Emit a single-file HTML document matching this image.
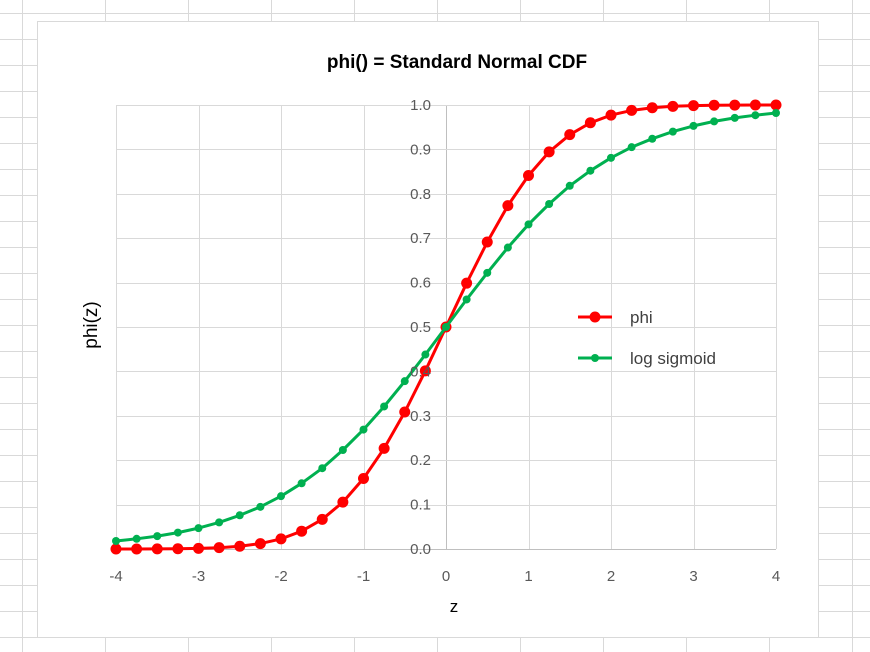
<!DOCTYPE html>
<html><head><meta charset="utf-8"><style>
html,body{margin:0;padding:0;background:#fff;}
svg{display:block;font-family:"Liberation Sans",Arial,sans-serif;}
</style></head><body>
<svg id="c" width="870" height="652">
<g id="sheet"></g>
<rect x="37.5" y="21.5" width="781" height="616" fill="#fff" stroke="#d9d9d9"/>
<g id="grid"></g>
<g id="series"></g>
<g id="ticks"></g>
<text x="457" y="68" text-anchor="middle" font-size="19" font-weight="bold" fill="#000">phi() = Standard Normal CDF</text>
<text transform="translate(97,325) rotate(-90)" text-anchor="middle" font-size="19" fill="#000">phi(z)</text>
<text x="454" y="612" text-anchor="middle" font-size="17" fill="#000">z</text>
<g>
<g>
<line x1="578" y1="317" x2="612" y2="317" stroke="#ff0000" stroke-width="3"/>
<circle cx="595" cy="317" r="5.5" fill="#ff0000"/>
<text x="630" y="323" font-size="17" fill="#404040">phi</text></g>
<g>
<line x1="578" y1="358" x2="612" y2="358" stroke="#00b050" stroke-width="3"/>
<circle cx="595" cy="358" r="4" fill="#00b050"/>
<text x="630" y="364" font-size="17" fill="#404040">log sigmoid</text></g>
</g>
</svg>
<script>
const zValues=[-4,-3.75,-3.5,-3.25,-3,-2.75,-2.5,-2.25,-2,-1.75,-1.5,-1.25,-1,-0.75,-0.5,-0.25,0,0.25,0.5,0.75,1,1.25,1.5,1.75,2,2.25,2.5,2.75,3,3.25,3.5,3.75,4];
const phiValues=[0.00003,0.0001,0.0002,0.0006,0.0013,0.003,0.0062,0.0122,0.0228,0.0401,0.0668,0.1056,0.1587,0.2266,0.3085,0.4013,0.5,0.5987,0.6915,0.7734,0.8413,0.8944,0.9332,0.9599,0.9772,0.9878,0.9938,0.997,0.9987,0.9994,0.9998,0.9999,1.0];
const sigmoidValues=[0.018,0.023,0.029,0.037,0.047,0.060,0.076,0.095,0.119,0.148,0.182,0.223,0.269,0.321,0.378,0.438,0.5,0.562,0.622,0.679,0.731,0.777,0.818,0.852,0.881,0.905,0.924,0.940,0.953,0.963,0.971,0.977,0.982];
const xTicks=[-4,-3,-2,-1,0,1,2,3,4];
const yTicks=[0,0.1,0.2,0.3,0.4,0.5,0.6,0.7,0.8,0.9,1.0];
const NS='http://www.w3.org/2000/svg';
const X0=116,X1=776,Y0=549,Y1=105;
function xs(v){return X0+(v+4)/8*(X1-X0);}
function ys(v){return Y0-v*(Y0-Y1);}
function mk(tag,attrs,parent){const e=document.createElementNS(NS,tag);for(const k in attrs)e.setAttribute(k,attrs[k]);parent.appendChild(e);return e;}
const sheet=document.getElementById('sheet');
for(let x=22;x<870;x+=83){const l=mk('line',{x1:x+.5,y1:0,x2:x+.5,y2:652,stroke:'#d9d9d9'},sheet);

}
for(let y=13;y<652;y+=26){const l=mk('line',{x1:0,y1:y+.5,x2:870,y2:y+.5,stroke:'#d9d9d9'},sheet);

}
const grid=document.getElementById('grid');
xTicks.forEach(v=>{const l=mk('line',{x1:Math.round(xs(v))+.5,y1:Y1,x2:Math.round(xs(v))+.5,y2:Y0,stroke:v===0?'#bfbfbf':'#d9d9d9'},grid);

});
yTicks.forEach(v=>{const l=mk('line',{x1:X0,y1:Math.round(ys(v))+.5,x2:X1,y2:Math.round(ys(v))+.5,stroke:v===0?'#bfbfbf':'#d9d9d9'},grid);

});
const ticks=document.getElementById('ticks');
xTicks.forEach(v=>{const t=mk('text',{x:xs(v),y:581,'text-anchor':'middle','font-size':15,fill:'#595959'},ticks);t.textContent=v;

});
yTicks.forEach(v=>{const t=mk('text',{x:431,y:ys(v)+5,'text-anchor':'end','font-size':15,fill:'#595959'},ticks);t.textContent=v.toFixed(1);

});
const series=document.getElementById('series');
function draw(vals,color,r,name){
const g=mk('g',{},series);


const pts=vals.map((v,i)=>xs(zValues[i]).toFixed(1)+','+ys(v).toFixed(1)).join(' ');
const pl=mk('polyline',{points:pts,fill:'none',stroke:color,'stroke-width':3,'stroke-linejoin':'round'},g);


vals.forEach((v,i)=>{const c=mk('circle',{cx:xs(zValues[i]),cy:ys(v),r:r,fill:color},g);

});}
draw(phiValues,'#ff0000',5.5,'phi-series');
draw(sigmoidValues,'#00b050',4,'sigmoid-series');
</script>
</body></html>
